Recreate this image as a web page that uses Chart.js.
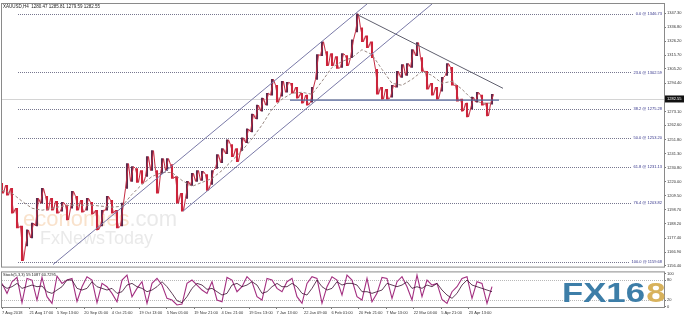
<!DOCTYPE html>
<html>
<head>
<meta charset="utf-8">
<script src="https://cdn.jsdelivr.net/npm/chart.js@4.4.1/dist/chart.umd.min.js"></script>
<style>
    html, body { margin: 0; padding: 0; background: #fff; }
    #wrap { position: relative; width: 684px; height: 319px; overflow: hidden; }
    #priceBox { position: absolute; left: 0; top: 0; width: 684px; height: 270px; }
    #stochBox { position: absolute; left: 0; top: 269px; width: 684px; height: 50px; }
</style>
</head>
<body>
<div id="wrap">
    <div id="priceBox"><canvas id="priceChart"></canvas></div>
    <div id="stochBox"><canvas id="stochChart"></canvas></div>
</div>
<script>
// XAUUSD H4, one sample every few bars (high / low of the sample)
const priceHigh = [
    1218.8, 1217.3, 1215.0, 1200.0, 1186.6, 1183.6, 1188.8, 1207.5, 1215.0, 1209.0,
    1207.5, 1205.3, 1204.5, 1202.3, 1212.8, 1209.0, 1206.0, 1207.5, 1204.5, 1198.5,
    1198.5, 1209.0, 1206.0, 1198.5, 1203.8, 1233.7, 1231.5, 1230.0, 1228.5, 1239.0,
    1243.5, 1228.5, 1237.5, 1237.5, 1233.0, 1224.0, 1211.3, 1220.3, 1226.3, 1228.5,
    1227.8, 1225.5, 1228.5, 1240.5, 1245.0, 1251.7, 1248.0, 1245.0, 1253.2, 1259.9,
    1271.2, 1277.9, 1283.2, 1286.9, 1297.4, 1292.9, 1295.9, 1295.1, 1294.4, 1291.4,
    1286.9, 1285.4, 1291.4, 1316.1, 1325.8, 1318.3, 1316.8, 1314.6, 1316.8, 1315.3,
    1327.3, 1346.8, 1336.3, 1330.3, 1325.8, 1304.9, 1291.4, 1289.9, 1292.9, 1303.4,
    1308.6, 1309.3, 1319.8, 1325.1, 1313.8, 1303.4, 1294.4, 1291.4, 1298.9, 1309.3,
    1306.4, 1292.9, 1282.4, 1279.4, 1283.9, 1287.6, 1285.4, 1279.4, 1286.1
];
const priceLow = [
    1211.3, 1209.8, 1196.3, 1185.1, 1160.4, 1171.6, 1177.6, 1186.6, 1203.8, 1198.5,
    1198.5, 1196.3, 1197.8, 1191.1, 1200.0, 1198.5, 1197.1, 1198.5, 1195.6, 1183.6,
    1186.6, 1198.5, 1196.3, 1185.1, 1186.6, 1215.0, 1220.3, 1219.5, 1218.8, 1224.0,
    1228.5, 1211.3, 1226.3, 1228.5, 1222.5, 1203.8, 1197.8, 1207.5, 1217.3, 1220.3,
    1221.0, 1213.5, 1218.0, 1230.0, 1234.5, 1241.2, 1239.0, 1235.2, 1243.5, 1249.5,
    1257.7, 1267.4, 1273.4, 1277.9, 1285.4, 1280.2, 1284.6, 1287.6, 1286.9, 1283.2,
    1279.4, 1277.9, 1280.2, 1297.4, 1315.3, 1307.8, 1307.8, 1305.6, 1306.4, 1307.8,
    1313.8, 1333.3, 1325.8, 1321.3, 1313.8, 1286.1, 1282.4, 1282.4, 1283.9, 1291.4,
    1298.9, 1300.4, 1306.4, 1315.3, 1303.4, 1289.9, 1285.4, 1282.4, 1288.4, 1300.4,
    1292.9, 1280.9, 1273.4, 1268.9, 1274.9, 1280.2, 1277.9, 1269.7, 1278.7
];
// moving average, one value every second sample
const maValues = [
    1213.5, 1211.3, 1205.3, 1200.0, 1198.5, 1200.0, 1201.5, 1202.3, 1202.3, 1202.3,
    1201.5, 1200.8, 1201.5, 1210.5, 1218.0, 1224.0, 1227.0, 1227.0, 1221.0, 1216.5,
    1219.5, 1222.5, 1228.5, 1236.0, 1243.5, 1252.5, 1262.9, 1274.9, 1282.4, 1286.9,
    1287.6, 1286.1, 1295.9, 1306.4, 1310.9, 1313.8, 1319.8, 1316.1, 1304.9, 1294.4,
    1292.9, 1297.4, 1303.4, 1300.4, 1294.4, 1295.9, 1289.9, 1282.4, 1279.4, 1279.4
];

const priceTicks = [1347.30, 1336.80, 1326.20, 1315.70, 1305.20, 1294.40, 1273.10, 1262.60,
    1251.80, 1241.30, 1230.80, 1220.00, 1209.50, 1198.70, 1188.20, 1177.40, 1166.90, 1156.40];
const lastPrice = 1282.55;

const fibLevels = [0.0, 23.6, 38.2, 50.0, 61.8, 76.4, 100.0];
const fibPrices = [1346.73, 1302.59, 1275.28, 1253.20, 1231.13, 1203.82, 1159.68];

// drawn lines: [sample index, price] at each end
const upperChannel = [[10.2, 1157.4], [73.0, 1354.3]];
const lowerChannel = [[36.2, 1197.8], [86.0, 1354.3]];
const resistance = [[71.2, 1346.0], [100.2, 1290.6]];
const support = [[57.6, 1281.6], [99.4, 1281.6]];

const stochMain = [
    70, 40, 75, 88, 12, 85, 80, 20, 88, 30,
    10, 92, 70, 80, 85, 16, 60, 90, 80, 12,
    70, 60, 40, 15, 80, 95, 30, 55, 75, 10,
    70, 85, 65, 25, 20, 5, 8, 70, 80, 65,
    50, 40, 75, 20, 15, 88, 80, 45, 60, 90,
    75, 30, 20, 85, 80, 55, 45, 75, 85, 30,
    10, 70, 90, 85, 10, 60, 90, 80, 35, 95,
    80, 30, 20, 85, 15, 40, 88, 85, 25, 75,
    90, 60, 20, 95, 30, 80, 65, 70, 22, 10,
    45, 60, 85, 90, 25, 75, 70, 10, 60
];
const stochSignal = [
    65, 55, 60, 70, 55, 60, 65, 60, 62, 45,
    40, 50, 60, 80, 80, 55, 50, 55, 75, 60,
    55, 50, 55, 40, 45, 65, 70, 60, 55, 45,
    50, 60, 75, 60, 40, 18, 12, 30, 55, 70,
    65, 52, 55, 45, 35, 40, 65, 70, 60, 65,
    75, 65, 40, 45, 60, 70, 60, 60, 70, 60,
    40, 35, 55, 80, 60, 50, 55, 75, 65, 70,
    70, 65, 45, 45, 40, 45, 50, 70, 65, 60,
    65, 75, 55, 60, 55, 65, 60, 70, 50, 35,
    25, 40, 65, 80, 65, 60, 55, 50, 45
];
const stochTicks = [0, 20, 80, 100];

const timeLabels = ['7 Aug 2018', '21 Aug 17:00', '5 Sep 13:00', '20 Sep 05:00', '4 Oct 21:00',
    '19 Oct 13:00', '5 Nov 05:00', '19 Nov 21:00', '4 Dec 21:00', '19 Dec 13:00', '7 Jan 13:00',
    '22 Jan 09:00', '6 Feb 01:00', '20 Feb 21:00', '7 Mar 13:00', '22 Mar 04:00', '5 Apr 21:00',
    '23 Apr 13:00'];
const labelStep = 5.49;   // samples between two time labels
const X_MAX = 132.4;      // empty space right of the last bar

const FONT = '"Liberation Sans", Arial, sans-serif';
Chart.defaults.font.family = FONT;
Chart.defaults.animation = false;

const toLine = pts => pts.map(p => ({ x: p[0], y: p[1] }));
const lineSet = (pts, color, width) => ({
    type: 'line',
    data: toLine(pts),
    borderColor: color,
    borderWidth: width,
    pointRadius: 0,
    order: 0
});

const isUp = priceHigh.map((h, i) => {
    if (i === 0) return false;
    return h + priceLow[i] >= priceHigh[i - 1] + priceLow[i - 1];
});
const candles = priceHigh.map((h, i) => ({ x: i, y: [priceLow[i], h] }));
// price thread: each sample goes low->high when rising, high->low when falling
const thread = [];
priceHigh.forEach((h, i) => {
    const a = isUp[i] ? priceLow[i] : h;
    const b = isUp[i] ? h : priceLow[i];
    thread.push({ x: i - 0.3, y: a }, { x: i + 0.3, y: b });
});

const priceDecor = {
    id: 'priceDecor',
    beforeDatasetsDraw(chart) {
        const { ctx, chartArea: a, scales: { x, y } } = chart;
        ctx.save();
        // watermark
        ctx.globalAlpha = 0.38;
        ctx.textBaseline = 'alphabetic';
        ctx.font = '22px ' + FONT;
        ctx.fillStyle = '#f0b27a';
        ctx.fillText('economies', 23, 226);
        const w = ctx.measureText('economies').width;
        ctx.fillStyle = '#c4c4c4';
        ctx.fillText('.com', 23 + w, 226);
        ctx.font = '18px ' + FONT;
        ctx.fillText('FxNewsToday', 40, 244);
        ctx.globalAlpha = 1;

        // bid line
        const yb = Math.round(y.getPixelForValue(lastPrice)) + 0.5;
        ctx.strokeStyle = '#d4d4d4';
        ctx.lineWidth = 1;
        ctx.beginPath(); ctx.moveTo(a.left, yb); ctx.lineTo(a.right, yb); ctx.stroke();

        // fibonacci levels
        ctx.font = '4px ' + FONT;
        ctx.setLineDash([1, 1]);
        ctx.strokeStyle = '#77778f';
        fibLevels.forEach((lvl, k) => {
            const py = Math.round(y.getPixelForValue(fibPrices[k])) + 0.5;
            const txt = lvl.toFixed(1) + ' @ ' + fibPrices[k].toFixed(2);
            const tx = a.right - 2 - ctx.measureText(txt).width;
            ctx.beginPath();
            ctx.moveTo(x.getPixelForValue(3.2), py);
            ctx.lineTo(tx - 2, py);
            ctx.stroke();
        });
        ctx.restore();
    },
    afterDraw(chart) {
        const { ctx, chartArea: a, scales: { y } } = chart;
        ctx.save();
        ctx.strokeStyle = '#8a8a8a';
        ctx.lineWidth = 1;
        ctx.strokeRect(a.left - 0.5, a.top - 0.5, a.right - a.left + 1, a.bottom - a.top + 1);

        ctx.font = '4.5px ' + FONT;
        ctx.fillStyle = '#222';
        ctx.textBaseline = 'middle';
        ctx.fillText('XAUUSD,H4  1280.47 1285.81 1279.59 1282.55', a.left + 1, a.top + 3);

        ctx.font = '4px ' + FONT;
        ctx.textAlign = 'right';
        ctx.fillStyle = '#33338a';
        fibLevels.forEach((lvl, k) => {
            const py = y.getPixelForValue(fibPrices[k]);
            ctx.fillText(lvl.toFixed(1) + ' @ ' + fibPrices[k].toFixed(2), a.right - 2, py);
        });

        const yb = y.getPixelForValue(lastPrice);
        ctx.fillStyle = '#111';
        ctx.fillRect(a.right + 1, yb - 3.5, 19, 7);
        ctx.fillStyle = '#fff';
        ctx.textAlign = 'left';
        ctx.fillText(lastPrice.toFixed(2), a.right + 3, yb);
        ctx.restore();
    }
};

new Chart(document.getElementById('priceChart'), {
    type: 'bar',
    data: {
        datasets: [
            lineSet(upperChannel, '#7a7aa8', 1),
            lineSet(lowerChannel, '#7a7aa8', 1),
            lineSet(resistance, '#5f5f6e', 1),
            lineSet(support, '#56679a', 1.2),
            {
                type: 'line',
                data: maValues.map((v, k) => ({ x: k * 2, y: v })),
                borderColor: '#9a8a84',
                borderWidth: 1,
                borderDash: [3, 2],
                pointRadius: 0,
                order: 1
            },
            {
                type: 'line',
                data: thread,
                borderColor: '#c42a40',
                borderWidth: 1,
                pointRadius: 0,
                order: 2
            },
            {
                data: candles,
                backgroundColor: isUp.map(u => u ? '#5a2a4c' : '#cf2239'),
                barThickness: 1.4,
                order: 3
            }
        ]
    },
    options: {
        responsive: true,
        maintainAspectRatio: false,
        layout: { padding: { left: 2, top: 4, right: 0, bottom: 1 } },
        plugins: { legend: { display: false }, tooltip: { enabled: false } },
        scales: {
            x: { type: 'linear', min: 0, max: X_MAX, offset: false, display: false },
            y: {
                position: 'right',
                min: 1155.9,
                max: 1354.3,
                afterBuildTicks: axis => { axis.ticks = priceTicks.map(v => ({ value: v })); },
                afterFit: axis => { axis.width = 20; },
                ticks: {
                    font: { size: 4 },
                    color: '#333',
                    padding: 1,
                    callback: v => Number(v).toFixed(2)
                },
                grid: { drawOnChartArea: false, tickLength: 2, color: '#777' },
                border: { color: '#8a8a8a' }
            }
        }
    },
    plugins: [priceDecor]
});

const stochDecor = {
    id: 'stochDecor',
    beforeDatasetsDraw(chart) {
        const { ctx, chartArea: a, scales: { y } } = chart;
        ctx.save();
        ctx.setLineDash([1, 1]);
        ctx.strokeStyle = '#b8b8b8';
        [20, 80].forEach(v => {
            const py = Math.round(y.getPixelForValue(v)) + 0.5;
            ctx.beginPath(); ctx.moveTo(a.left, py); ctx.lineTo(a.right, py); ctx.stroke();
        });
        ctx.restore();
    },
    afterDraw(chart) {
        const { ctx, chartArea: a } = chart;
        ctx.save();
        ctx.strokeStyle = '#8a8a8a';
        ctx.lineWidth = 1;
        ctx.strokeRect(a.left - 0.5, a.top - 0.5, a.right - a.left + 1, a.bottom - a.top + 1);

        ctx.font = '4px ' + FONT;
        ctx.fillStyle = '#222';
        ctx.textBaseline = 'middle';
        ctx.fillText('Stoch(5,3,3) 59.1087 60.7295', a.left + 1, a.top + 2.5);

        // FX168 logo
        ctx.textBaseline = 'alphabetic';
        ctx.font = 'bold 28px ' + FONT;
        const w = ctx.measureText('FX16').width;
        ctx.translate(562, 33);
        ctx.scale(83 / w, 1);
        ctx.fillStyle = '#3d7ea8';
        ctx.fillText('FX16', 0, 0);
        ctx.fillStyle = '#d8b25c';
        ctx.fillText('8', w + 1, 0);
        ctx.restore();
    }
};

new Chart(document.getElementById('stochChart'), {
    type: 'line',
    data: {
        datasets: [
            {
                data: stochSignal.map((v, i) => ({ x: i, y: v })),
                borderColor: '#3a0f30',
                borderWidth: 0.8,
                pointRadius: 0
            },
            {
                data: stochMain.map((v, i) => ({ x: i, y: v })),
                borderColor: '#a32f80',
                borderWidth: 1.1,
                pointRadius: 0
            }
        ]
    },
    options: {
        responsive: true,
        maintainAspectRatio: false,
        layout: { padding: { left: 2, top: 3, right: 0, bottom: 0 } },
        plugins: { legend: { display: false }, tooltip: { enabled: false } },
        scales: {
            x: {
                type: 'linear',
                min: 0,
                max: X_MAX,
                afterBuildTicks: axis => { axis.ticks = timeLabels.map((_, k) => ({ value: k * labelStep })); },
                afterFit: axis => { axis.height = 12; },
                ticks: {
                    autoSkip: false,
                    maxRotation: 0,
                    align: 'start',
                    font: { size: 4 },
                    color: '#333',
                    padding: 1,
                    callback: (v, i) => timeLabels[i]
                },
                grid: { drawOnChartArea: false, tickLength: 2, color: '#777' },
                border: { color: '#8a8a8a' }
            },
            y: {
                position: 'right',
                min: -1,
                max: 103,
                afterBuildTicks: axis => { axis.ticks = stochTicks.map(v => ({ value: v })); },
                afterFit: axis => { axis.width = 20; },
                ticks: { font: { size: 4 }, color: '#333', padding: 1 },
                grid: { drawOnChartArea: false, tickLength: 2, color: '#777' },
                border: { color: '#8a8a8a' }
            }
        }
    },
    plugins: [stochDecor]
});
</script>
</body>
</html>
